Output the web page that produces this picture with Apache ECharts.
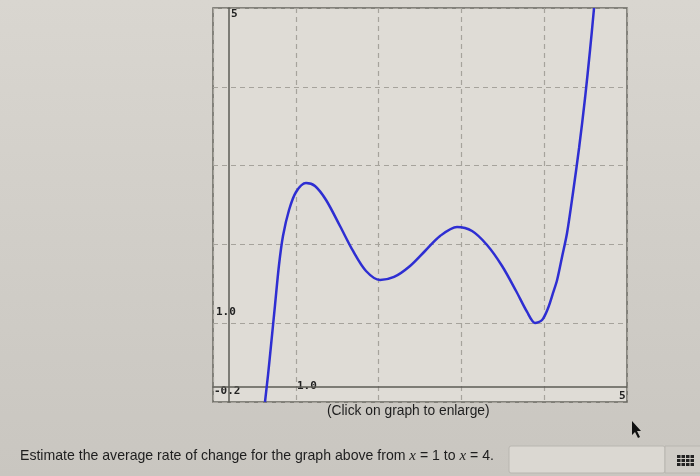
<!DOCTYPE html>
<html>
<head>
<meta charset="utf-8">
<script src="https://cdn.jsdelivr.net/npm/echarts@6/dist/echarts.min.js"></script>
<style>
html,body{margin:0;padding:0;background:#d3d0ca;}
#chart{width:700px;height:476px;}
</style>
</head>
<body>
<div id="chart"></div>
<script>
// Curve points (x, y in graph units)
const curveX = [0.453, 0.491, 0.529, 0.579, 0.629, 0.679, 0.755, 0.843, 0.968, 1.081, 1.220, 1.395, 1.559, 1.722, 1.898, 2.074, 2.275, 2.463, 2.652, 2.865, 3.054, 3.242, 3.431, 3.607, 3.745, 3.845, 3.933, 4.009, 4.071, 4.122, 4.184, 4.247, 4.323, 4.398, 4.473, 4.536, 4.586];
const curveY = [-0.2, 0.156, 0.552, 1.080, 1.608, 1.991, 2.334, 2.572, 2.690, 2.651, 2.466, 2.123, 1.793, 1.529, 1.410, 1.450, 1.595, 1.793, 1.991, 2.110, 2.057, 1.872, 1.595, 1.265, 0.988, 0.843, 0.882, 1.041, 1.239, 1.410, 1.714, 2.030, 2.572, 3.152, 3.812, 4.446, 5.0];
const xRange = [-0.2, 5];
const yRange = [-0.2, 5];
const gridCells = 5;
const cornerLabels = ['5', '1.0', '-0.2', '1.0', '5'];
const caption = '(Click on graph to enlarge)';
const question = ['Estimate the average rate of change for the graph above from ', 'x', ' = 1 to ', 'x', ' = 4.'];

const chart = echarts.init(document.getElementById('chart'));
const pts = curveX.map((x, i) => [x, curveY[i]]);
const mono = '"DejaVu Sans Mono", monospace';

chart.setOption({
  backgroundColor: {
    type: 'linear', x: 0, y: 0, x2: 0, y2: 1,
    colorStops: [{offset: 0, color: '#d9d6d0'}, {offset: 1, color: '#c9c6c0'}]
  },
  animation: false,
  grid: {
    left: 213, right: 73, top: 8, bottom: 74,
    show: true, borderColor: '#67665f', borderWidth: 1.5,
    backgroundColor: '#dfdcd6'
  },
  xAxis: [
    {
      type: 'value', min: xRange[0], max: xRange[1],
      axisLine: {show: true, onZero: true, lineStyle: {color: '#5d5c56', width: 1.5}},
      axisTick: {show: false}, axisLabel: {show: false}, splitLine: {show: false}
    },
    {
      type: 'value', min: 0, max: gridCells, interval: 1, position: 'top',
      axisLine: {show: false}, axisTick: {show: false}, axisLabel: {show: false},
      splitLine: {show: true, lineStyle: {color: '#a6a39c', type: [5, 4], width: 1.2}}
    }
  ],
  yAxis: [
    {
      type: 'value', min: yRange[0], max: yRange[1],
      axisLine: {show: true, onZero: true, lineStyle: {color: '#5d5c56', width: 1.5}},
      axisTick: {show: false}, axisLabel: {show: false}, splitLine: {show: false}
    },
    {
      type: 'value', min: 0, max: gridCells, interval: 1, position: 'right',
      axisLine: {show: false}, axisTick: {show: false}, axisLabel: {show: false},
      splitLine: {show: true, lineStyle: {color: '#a6a39c', type: [5, 4], width: 1.2}}
    }
  ],
  series: [{
    type: 'line', xAxisIndex: 0, yAxisIndex: 0,
    data: pts, smooth: 0.3, symbol: 'none', clip: true,
    lineStyle: {color: '#2e2ed2', width: 2.5}
  }],
  graphic: [
    {type: 'text', left: 231, top: 9, style: {text: cornerLabels[0], font: 'bold 11px ' + mono, fill: '#222'}},
    {type: 'text', left: 216, top: 307, style: {text: cornerLabels[1], font: 'bold 11px ' + mono, fill: '#222'}},
    {type: 'text', left: 214, top: 386, style: {text: cornerLabels[2], font: 'bold 11px ' + mono, fill: '#222'}},
    {type: 'text', left: 297, top: 381, style: {text: cornerLabels[3], font: 'bold 11px ' + mono, fill: '#222'}},
    {type: 'text', left: 619, top: 391, style: {text: cornerLabels[4], font: 'bold 11px ' + mono, fill: '#222'}},
    {type: 'text', left: 327, top: 404, style: {text: caption, font: '13.8px "Liberation Sans", Arial, sans-serif', fill: '#1e1e1e'}},
    {
      type: 'text', left: 20, top: 449,
      style: {
        text: '{a|' + question[0] + '}{i|' + question[1] + '}{a|' + question[2] + '}{i|' + question[3] + '}{a|' + question[4] + '}',
        rich: {
          a: {font: '14.1px "Liberation Sans", Arial, sans-serif', fill: '#1e1e1e'},
          i: {font: 'italic 15px "Liberation Serif", serif', fill: '#1e1e1e'}
        }
      }
    },
    {type: 'rect', shape: {x: 509, y: 446, width: 156, height: 27, r: 2}, style: {fill: '#dbd8d2', stroke: '#b9b6b0', lineWidth: 1}},
    {type: 'rect', shape: {x: 665, y: 446, width: 40, height: 27}, style: {fill: '#cfccc6', stroke: '#b9b6b0', lineWidth: 1}},
    {
      type: 'group', left: 677, top: 455,
      children: [0,1,2].flatMap(r => [0,1,2,3].map(c => ({
        type: 'rect', shape: {x: c * 4.5, y: r * 4, width: 3.5, height: 3}, style: {fill: '#222'}
      })))
    },
    {type: 'polygon', shape: {points: [[632, 421], [632, 435], [635, 432], [638, 438], [640, 437], [637, 431], [641, 431]]}, style: {fill: '#111'}}
  ]
});
</script>
</body>
</html>
